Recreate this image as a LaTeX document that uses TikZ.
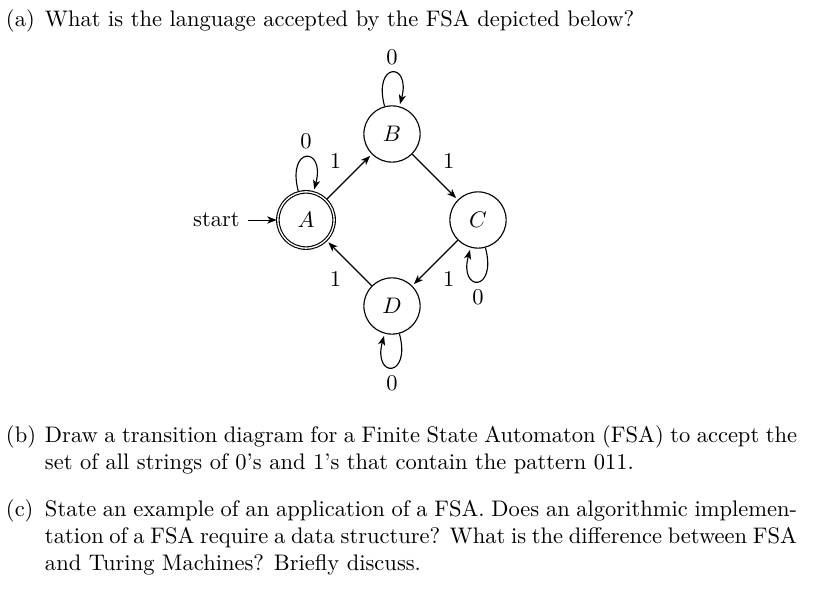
\documentclass[tikz,border=0pt]{standalone}
\usetikzlibrary{automata,arrows.meta}
\begin{document}
\begin{tikzpicture}[x=0.4444pt,y=-0.4444pt,
  >={Stealth[length=4.2pt,width=3.2pt,inset=1.2pt]},
  auto,
  fsastate/.style={state,minimum size=25pt,inner sep=0pt,line width=0.5pt},
  trans/.style={->,line width=0.5pt,shorten >=1pt},
  txt/.style={anchor=base west,inner sep=0pt,outer sep=0pt},
  para/.style={txt,text width=334.2pt,align=justify}]
\useasboundingbox (0,0) rectangle (814,590);

% question texts
\node[txt] (la) at (6,27) {(a)};
\node[txt] (ta) at (45,27) {What is the language accepted by the FSA depicted below?};
\node[txt] (lb) at (6,443) {(b)};
\node[para] (tb) at (45,443) {Draw a transition diagram for a Finite State Automaton (FSA) to accept the\linebreak set of all strings of 0's and 1's that contain the pattern 011.};
\node[txt] (lc) at (6,517) {(c)};
\node[para] (tc) at (45,517) {State an example of an application of a FSA. Does an algorithmic implemen-\linebreak tation of a FSA require a data structure? What is the difference between FSA\linebreak and Turing Machines? Briefly discuss.};

% automaton
\node[fsastate,initial,accepting,initial text=start,
      every initial by arrow/.style={->,line width=0.5pt}] (A) at (306,220) {$A$};
\node[fsastate] (B) at (392,134) {$B$};
\node[fsastate] (C) at (478,220) {$C$};
\node[fsastate] (D) at (392,306) {$D$};

\path[trans]
  (A) edge[loop above] node {0} (A)
      edge node {1} (B)
  (B) edge[loop above] node {0} (B)
      edge node {1} (C)
  (C) edge[loop below] node {0} (C)
      edge node {1} (D)
  (D) edge[loop below] node {0} (D)
      edge node {1} (A);
\end{tikzpicture}
\end{document}
